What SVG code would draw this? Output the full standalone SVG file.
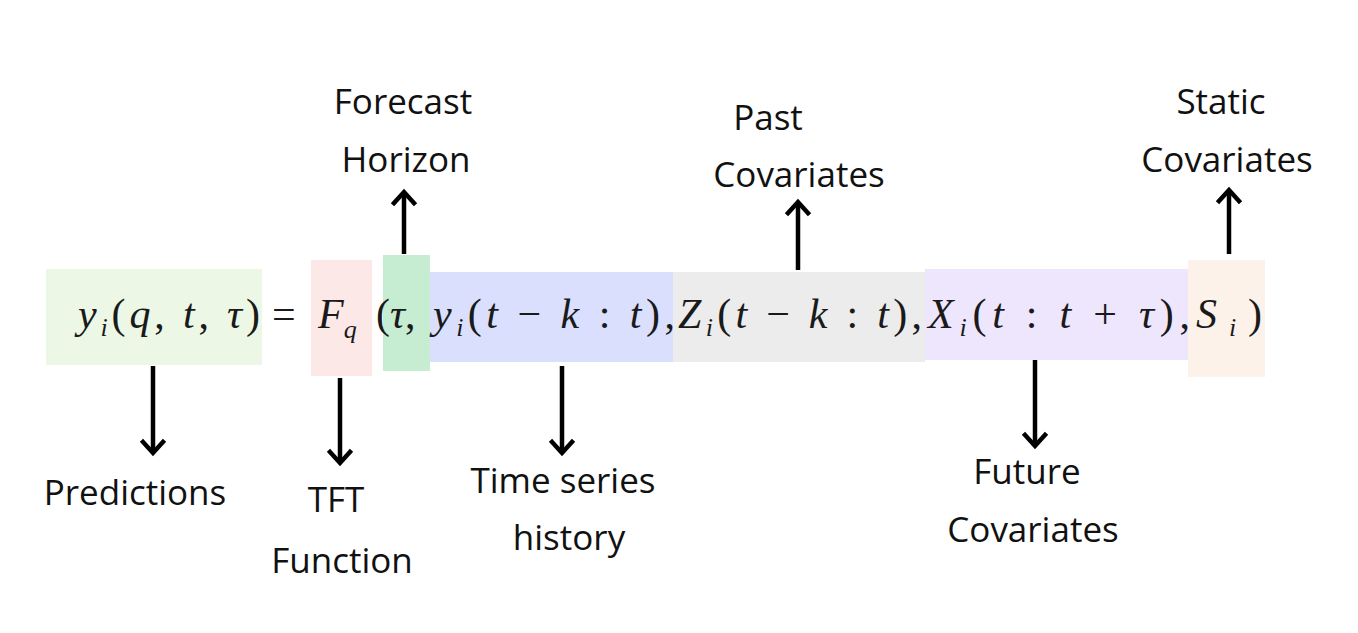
<svg xmlns="http://www.w3.org/2000/svg" width="1358" height="633" viewBox="0 0 1358 633">
<style>
.lbl{font-family:"Open Sans","Liberation Sans",sans-serif;font-size:35px;fill:#111;text-anchor:middle}
.m{font-family:"Liberation Serif","DejaVu Serif",serif;font-size:42px;fill:#1a1a1a}
.i{font-style:italic}
.s{font-size:26px;font-style:italic}
.c line{stroke:#000;stroke-width:4.5}
.c path{fill:none;stroke:#000;stroke-width:4.5;stroke-linecap:square}
</style>
<rect width="1358" height="633" fill="#fff"/>
<g id="boxes">
<rect x="46" y="269" width="216" height="96" fill="#ecf8e5"/>
<rect x="311" y="260" width="61" height="116" fill="#fde8e8"/>
<rect x="383" y="255" width="47" height="116" fill="#c6ecd2"/>
<rect x="430" y="272" width="243" height="90" fill="#d9dffd"/>
<rect x="673" y="272" width="252" height="90" fill="#ececec"/>
<rect x="925" y="269" width="263" height="91" fill="#ede6fd"/>
<rect x="1188" y="260" width="77" height="117" fill="#fdf2ea"/>
</g>
<g id="formula">
<text class="m" x="78" y="328" textLength="182" lengthAdjust="spacing"><tspan class="i">y</tspan><tspan class="s" dy="8">i</tspan><tspan dy="-8">(</tspan><tspan class="i">q</tspan>, <tspan class="i">t</tspan>, <tspan class="i">τ</tspan>)</text>
<text class="m" x="272" y="328">=</text>
<text class="m" x="318" y="328"><tspan class="i">F</tspan><tspan class="s" dy="10">q</tspan></text>
<text class="m" x="376" y="328">(<tspan class="i">τ</tspan>,</text>
<text class="m" x="433" y="328" textLength="242" lengthAdjust="spacing"><tspan class="i">y</tspan><tspan class="s" dy="8">i</tspan><tspan dy="-8">(</tspan><tspan class="i">t</tspan> − <tspan class="i">k</tspan> : <tspan class="i">t</tspan>),</text>
<text class="m" x="678" y="328" textLength="244" lengthAdjust="spacing"><tspan class="i">Z</tspan><tspan class="s" dy="8">i</tspan><tspan dy="-8">(</tspan><tspan class="i">t</tspan> − <tspan class="i">k</tspan> : <tspan class="i">t</tspan>),</text>
<text class="m" x="928" y="328" textLength="262" lengthAdjust="spacing"><tspan class="i">X</tspan><tspan class="s" dy="8">i</tspan><tspan dy="-8">(</tspan><tspan class="i">t</tspan> : <tspan class="i">t</tspan> + <tspan class="i">τ</tspan>),</text>
<text class="m" x="1196" y="328" textLength="66" lengthAdjust="spacing"><tspan class="i">S</tspan><tspan class="s" dy="8">i</tspan><tspan dy="-8">)</tspan></text>
</g>
<g id="connectors" class="c">
<line x1="153" y1="366" x2="153" y2="453"/><path d="M143 442 L153 453 L163 442"/>
<line x1="340" y1="378" x2="340" y2="463"/><path d="M330 452 L340 463 L350 452"/>
<line x1="562" y1="366" x2="562" y2="453"/><path d="M552 442 L562 453 L572 442"/>
<line x1="1035" y1="360" x2="1035" y2="446"/><path d="M1025 435 L1035 446 L1045 435"/>
<line x1="404" y1="254" x2="404" y2="192"/><path d="M394 203 L404 192 L414 203"/>
<line x1="798" y1="270" x2="798" y2="202"/><path d="M788 213 L798 202 L808 213"/>
<line x1="1229" y1="254" x2="1229" y2="190"/><path d="M1219 201 L1229 190 L1239 201"/>
</g>
<g id="labels">
<g id="n-forecast"><text class="lbl" x="403" y="114">Forecast</text><text class="lbl" x="406" y="172">Horizon</text></g>
<g id="n-past"><text class="lbl" x="768" y="130">Past</text><text class="lbl" x="799" y="187">Covariates</text></g>
<g id="n-static"><text class="lbl" x="1221" y="114">Static</text><text class="lbl" x="1227" y="172">Covariates</text></g>
<g id="n-pred"><text class="lbl" x="135" y="505">Predictions</text></g>
<g id="n-tft"><text class="lbl" x="336" y="512">TFT</text><text class="lbl" x="342" y="573">Function</text></g>
<g id="n-ts"><text class="lbl" x="563" y="493">Time series</text><text class="lbl" x="569" y="550">history</text></g>
<g id="n-future"><text class="lbl" x="1027" y="484">Future</text><text class="lbl" x="1033" y="542">Covariates</text></g>
</g>
</svg>
